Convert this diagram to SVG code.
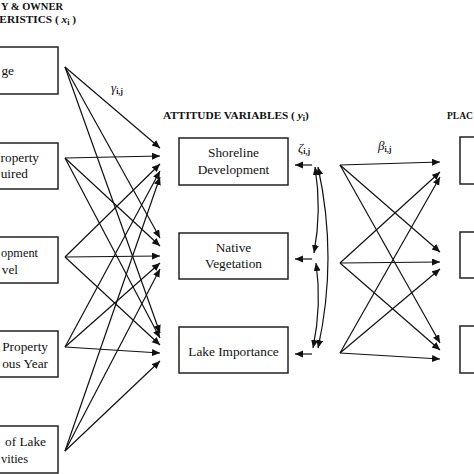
<svg xmlns="http://www.w3.org/2000/svg" width="474" height="474" viewBox="0 0 474 474">
<style>
.box{fill:#fff;stroke:#222;stroke-width:1.5}
.t{font-family:"Liberation Serif","Times New Roman",serif;font-size:13.3px;fill:#111;text-anchor:middle}
.e{font-family:"Liberation Serif","Times New Roman",serif;font-size:13.3px;fill:#111;text-anchor:end}
.s{font-family:"Liberation Serif","Times New Roman",serif;font-size:13.3px;fill:#111}
.h{font-family:"Liberation Serif","Times New Roman",serif;font-size:11.3px;font-weight:bold;fill:#111}
.lbl{font-family:"Liberation Serif","Times New Roman",serif;font-size:13px;font-style:italic;fill:#111}
.sub{font-size:8px;font-style:normal;font-weight:bold}
.c line,.c path{stroke:#111;stroke-width:1.2;fill:none;marker-end:url(#ah)}
.c path.d{marker-start:url(#ah)}
</style>
<defs>
<marker id="ah" markerUnits="userSpaceOnUse" markerWidth="9" markerHeight="8" refX="8" refY="3.5" orient="auto-start-reverse">
<path d="M0,0 L8,3.5 L0,7 z" fill="#111"/>
</marker>
</defs>
<rect width="474" height="474" fill="#fff"/>

<text class="h" x="1" y="10" textLength="62" lengthAdjust="spacingAndGlyphs">Y &amp; OWNER</text>
<text class="h" x="76" y="23" text-anchor="end">ERISTICS ( <tspan font-style="italic">x</tspan><tspan class="sub" dy="2">i</tspan><tspan dy="-2"> )</tspan></text>
<text class="h" x="163" y="119">ATTITUDE VARIABLES ( <tspan font-style="italic">y</tspan><tspan class="sub" dy="2">i</tspan><tspan dy="-2">)</tspan></text>
<text class="h" x="447" y="119" style="font-size:9.5px">PLAC</text>

<g id="x1"><rect class="box" x="-51" y="47" width="109" height="47"/><text class="e" x="14" y="75">ge</text></g>
<g id="x2"><rect class="box" x="-51" y="143" width="109" height="46"/><text class="e" x="39" y="162">roperty</text><text class="e" x="28" y="178">uired</text></g>
<g id="x3"><rect class="box" x="-51" y="237" width="109" height="46"/><text class="s" x="1" y="257" textLength="37" lengthAdjust="spacingAndGlyphs">opment</text><text class="e" x="18" y="274">vel</text></g>
<g id="x4"><rect class="box" x="-51" y="331" width="109" height="46"/><text class="e" x="48" y="351">Property</text><text class="e" x="48" y="368">ous Year</text></g>
<g id="x5"><rect class="box" x="-51" y="426" width="109" height="47"/><text class="e" x="46" y="446">of Lake</text><text class="s" x="1" y="463" textLength="27" lengthAdjust="spacingAndGlyphs">vities</text></g>

<g id="y1"><rect class="box" x="179" y="138" width="109" height="47"/><text class="t" x="233.5" y="157">Shoreline</text><text class="t" x="233.5" y="174">Development</text></g>
<g id="y2"><rect class="box" x="179" y="233" width="109" height="46"/><text class="t" x="233.5" y="252">Native</text><text class="t" x="233.5" y="268">Vegetation</text></g>
<g id="y3"><rect class="box" x="179" y="327" width="109" height="46"/><text class="t" x="233.5" y="356">Lake Importance</text></g>

<g id="p1"><rect class="box" x="460" y="137" width="40" height="47"/></g>
<g id="p2"><rect class="box" x="460" y="232" width="40" height="46"/></g>
<g id="p3"><rect class="box" x="460" y="326" width="40" height="47"/></g>

<text class="lbl" x="111" y="92">γ<tspan class="sub" dy="2">i,j</tspan></text>
<text class="lbl" x="298" y="152">ζ<tspan class="sub" dy="2">i,j</tspan></text>
<text class="lbl" x="378" y="150">β<tspan class="sub" dy="2">i,j</tspan></text>

<g id="connectors" class="c">
<line x1="65" y1="67" x2="160" y2="148"/>
<line x1="65" y1="67" x2="160" y2="238"/>
<line x1="65" y1="67" x2="160" y2="333"/>
<line x1="65" y1="158" x2="160" y2="156"/>
<line x1="65" y1="158" x2="160" y2="246"/>
<line x1="65" y1="158" x2="160" y2="338"/>
<line x1="65" y1="257" x2="160" y2="164"/>
<line x1="65" y1="257" x2="160" y2="256"/>
<line x1="65" y1="257" x2="160" y2="345"/>
<line x1="65" y1="347" x2="160" y2="171"/>
<line x1="65" y1="347" x2="160" y2="263"/>
<line x1="65" y1="347" x2="160" y2="353"/>
<line x1="65" y1="451" x2="160" y2="177"/>
<line x1="65" y1="451" x2="160" y2="269"/>
<line x1="65" y1="451" x2="160" y2="361"/>

<line x1="312" y1="165" x2="295" y2="165"/>
<line x1="312" y1="259" x2="295" y2="259"/>
<line x1="312" y1="354" x2="295" y2="354"/>
<path class="d" d="M315,167 Q322,210 314,253"/>
<path class="d" d="M316,263 Q322,305 313,348"/>
<path class="d" d="M318,167 Q338,258 318,348"/>

<line x1="340" y1="165" x2="440" y2="162"/>
<line x1="340" y1="165" x2="440" y2="252"/>
<line x1="340" y1="165" x2="440" y2="343"/>
<line x1="340" y1="263" x2="440" y2="172"/>
<line x1="340" y1="263" x2="440" y2="262"/>
<line x1="340" y1="263" x2="440" y2="350"/>
<line x1="340" y1="353" x2="440" y2="177"/>
<line x1="340" y1="353" x2="440" y2="269"/>
<line x1="340" y1="353" x2="440" y2="359"/>
</g>
</svg>
